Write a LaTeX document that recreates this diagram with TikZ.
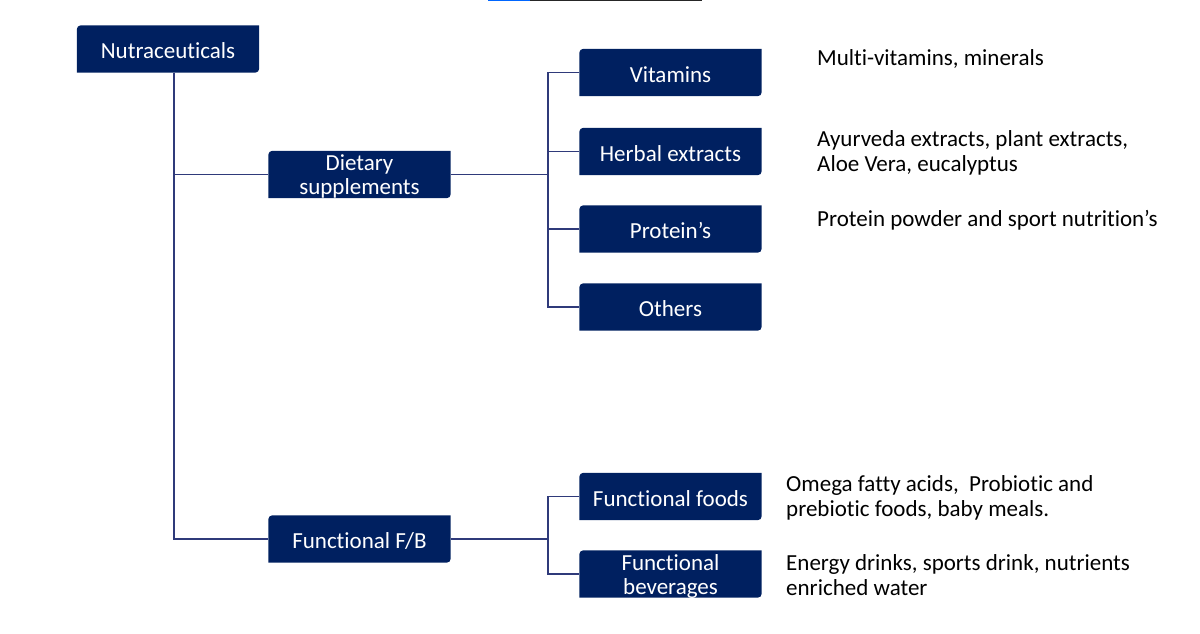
\documentclass[tikz,border=0pt]{standalone}
\usepackage{fontspec}
\setmainfont{Carlito}[Ligatures=NoCommon]
\usetikzlibrary{backgrounds}
\definecolor{navy}{HTML}{002060}
\definecolor{lnc}{HTML}{2F3A7A}
\newcommand\navyshape[1]{%
  \fill[navy] (#1.south west) -- ([yshift=-4pt]#1.north west)
    arc[start angle=180,end angle=90,radius=4pt] -- (#1.north east)
    -- ([yshift=4pt]#1.south east) arc[start angle=0,end angle=-90,radius=4pt] -- cycle;}
\tikzset{
  nbox/.style={minimum width=182pt, minimum height=47pt, inner sep=0pt, text=white,
    align=center, font=\fontsize{23}{26}\selectfont, text height=19pt, text depth=0pt},
  btxt/.style={anchor=base, inner sep=0pt, text=white, font=\fontsize{23}{26}\selectfont},
  desc/.style={anchor=base west, inner sep=0pt, align=left, text=black,
    font=\fontsize{23}{25.5}\selectfont},
  conn/.style={draw=lnc, line width=1.3pt}
}
\begin{document}
\begin{tikzpicture}[x=1pt,y=-1pt]
\useasboundingbox (0,0) rectangle (1200,634);
\fill[blue!60!cyan] (488,0) rectangle (530,1.5);
\fill[black!85] (530,0) rectangle (702,1.5);

\node[nbox] (nut) at (168,49) {Nutraceuticals};
\node[nbox, text height=0pt] (diet) at (359.5,174.5) {};
\node[nbox] (ffb) at (359.5,539) {Functional F/B};
\node[nbox] (vit) at (670.5,72.5) {Vitamins};
\node[nbox] (herb) at (670.5,151.5) {Herbal extracts};
\node[nbox] (prot) at (670.5,229) {Protein\symbol{39}s};
\node[nbox] (oth) at (670.5,307) {Others};
\node[nbox] (ffoods) at (670.5,496.5) {Functional foods};
\node[nbox, text height=0pt] (fbev) at (670.5,574) {};
\node[btxt] (dietA) at (359.5,170) {Dietary};
\node[btxt] (dietB) at (359.5,194.5) {supplements};
\node[btxt] (fbevA) at (670.5,570) {Functional};
\node[btxt] (fbevB) at (670.5,594.5) {beverages};

\coordinate (t1) at (174,72);
\coordinate (b1) at (548,0);
\begin{scope}[on background layer]
\foreach \n in {nut,diet,ffb,vit,herb,prot,oth,ffoods,fbev}{\navyshape{\n}}
\draw[conn] (nut.south -| t1) |- (diet.west);
\draw[conn] (nut.south -| t1) |- (ffb.west);
\draw[conn] (diet.east) -- (diet.east -| b1);
\draw[conn] (ffb.east) -- (ffb.east -| b1);
\draw[conn] (vit.west) -| (oth.west -| b1) -- (oth.west);
\draw[conn] (herb.west) -- (herb.west -| b1);
\draw[conn] (prot.west) -- (prot.west -| b1);
\draw[conn] (ffoods.west) -| (fbev.west -| b1) -- (fbev.west);
\end{scope}

\node[desc] (d1) at (817,66) {Multi-vitamins, minerals};
\node[desc] (d2) at (817,171.5) {Ayurveda extracts, plant extracts,\\Aloe Vera, eucalyptus};
\node[desc] (d3) at (817,226) {Protein powder and sport nutrition\symbol{39}s};
\node[desc] (d4) at (786,516.5) {Omega fatty acids,\ \ Probiotic and\\prebiotic foods, baby meals.};
\node[desc] (d5) at (786,595.5) {Energy drinks, sports drink, nutrients\\enriched water};
\end{tikzpicture}
\end{document}
